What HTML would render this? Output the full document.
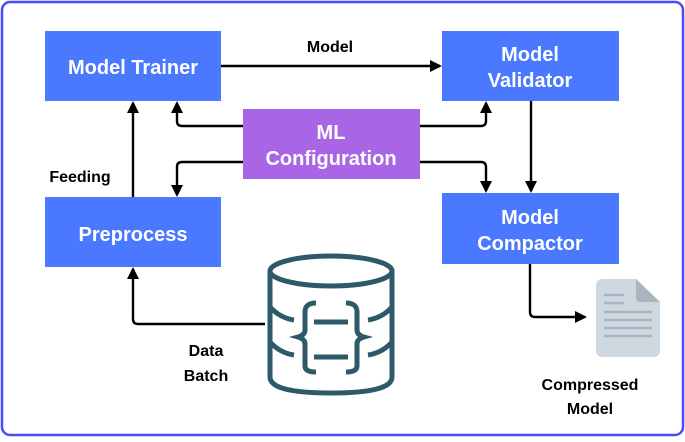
<!DOCTYPE html>
<html><head><style>
body{margin:0;width:685px;height:437px;background:#fff;overflow:hidden}
svg text{font-family:"Liberation Sans",sans-serif;font-weight:bold}
</style></head><body>
<svg width="685" height="437" viewBox="0 0 685 437">
<defs><marker id="a" markerWidth="12" markerHeight="12" refX="10" refY="6" orient="auto" markerUnits="userSpaceOnUse"><path d="M0,0 L12,6 L0,12 z" fill="#000"/></marker></defs>
<rect x="2" y="2" width="681" height="433" rx="8" fill="#fff" stroke="#4a4aff" stroke-width="2.5"/>
<g fill="#4a78ff">
<rect x="45" y="31" width="176" height="70"/>
<rect x="442" y="31" width="177" height="70"/>
<rect x="45" y="197" width="176" height="70"/>
<rect x="442" y="193" width="177" height="71"/>
</g>
<rect x="243" y="109" width="177" height="70" fill="#a866e6"/>
<g fill="#fff" font-size="20" text-anchor="middle">
<text x="133" y="74">Model Trainer</text>
<text x="530" y="61">Model</text><text x="530" y="87">Validator</text>
<text x="133" y="241">Preprocess</text>
<text x="530" y="224">Model</text><text x="530" y="250">Compactor</text>
<text x="331" y="139">ML</text><text x="331" y="165">Configuration</text>
</g>
<g stroke="#000" stroke-width="2.4" fill="none" marker-end="url(#a)">
<path d="M221 66 H440"/>
<path d="M243 126 H182 Q177 126 177 121 V103"/>
<path d="M420 126 H481 Q486 126 486 121 V103"/>
<path d="M243 162 H182 Q177 162 177 167 V195"/>
<path d="M420 162 H481 Q486 162 486 167 V191"/>
<path d="M531 101 V191"/>
<path d="M133 197 V103"/>
<path d="M265 324 H138 Q133 324 133 319 V269"/>
<path d="M530 264 V312 Q530 317 535 317 H585"/>
</g>
<g fill="#000" font-size="16" text-anchor="middle">
<text x="330" y="52">Model</text>
<text x="80" y="182">Feeding</text>
<text x="206" y="356">Data</text><text x="206" y="381">Batch</text>
<text x="590" y="390">Compressed</text><text x="590" y="414">Model</text>
</g>
<g stroke="#2d5a68" stroke-width="5" fill="none">
<ellipse cx="331" cy="271" rx="61" ry="15"/>
<path d="M270 271 V377 Q270 393 331 393 Q392 393 392 377 V271"/>
<path d="M270 307 Q280 318 294 320 M368 320 Q382 318 392 307"/>
<path d="M270 342 Q280 353 294 355 M368 355 Q382 353 392 342"/>
<path d="M316 303 Q305 303 305 312 V330 Q305 335 298 337 Q305 339 305 344 V366 Q305 372 316 372"/>
<path d="M346 303 Q357 303 357 312 V330 Q357 335 364 337 Q357 339 357 344 V366 Q357 372 346 372"/>
<path d="M314 322 H348 M314 357 H348"/>
</g>
<path d="M603 279 H636 L660 302 V350 Q660 357 653 357 H603 Q596 357 596 350 V286 Q596 279 603 279z" fill="#cfd8e0"/>
<path d="M636 279 V298 Q636 302 640 302 H660z" fill="#aab5bf"/>
<g stroke="#a9b4be" stroke-width="2.5">
<path d="M604 295 H624 M604 303 H624 M604 312 H652 M604 320 H652 M604 328 H652 M604 336 H652"/>
</g>
</svg>
</body></html>
